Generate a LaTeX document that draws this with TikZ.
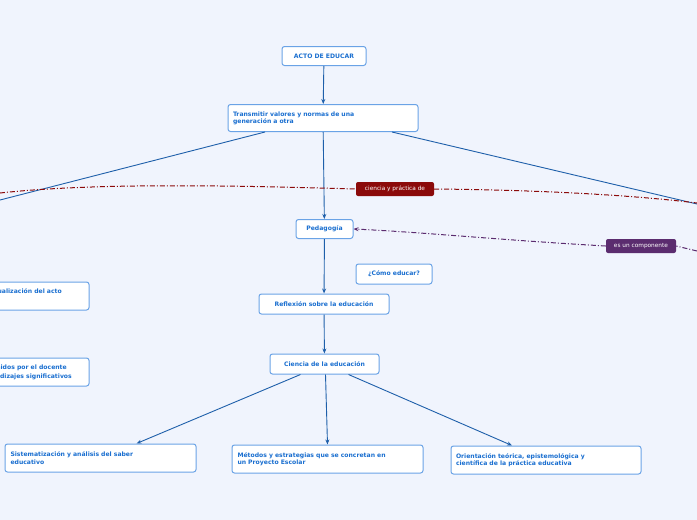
\documentclass[tikz,border=0pt]{standalone}
\usepackage{fontspec}
\setmainfont{DejaVu Sans}
\usetikzlibrary{arrows.meta,calc}
\definecolor{bg}{HTML}{F0F4FD}
\definecolor{tx}{HTML}{1A6FD0}
\definecolor{bd}{HTML}{6AA3E6}
\definecolor{ln}{HTML}{1E5FAA}
\definecolor{rd}{HTML}{8B0A0A}
\definecolor{pu}{HTML}{5B2C6F}
\tikzset{
 box/.style={draw=bd,line width=1pt,fill=white,rounded corners=2.5pt,text=tx,font=\bfseries\fontsize{6.1}{7.2}\selectfont,inner sep=0pt,align=left},
 txt/.style={text=tx,font=\bfseries\fontsize{6.1}{7.2}\selectfont,inner sep=0pt},
 con/.style={draw=ln,line width=0.9pt,-{Stealth[length=5pt,width=4pt]}},
 lbl/.style={rounded corners=2pt,text=white,font=\fontsize{5.8}{6.8}\selectfont,inner sep=0pt}
}
\begin{document}
\begin{tikzpicture}[x=1pt,y=-1pt]
\fill[bg] (0,0) rectangle (697,520);
\useasboundingbox (0,0) rectangle (697,520);
\clip (0,0) rectangle (697,520);
\node[box,minimum width=84pt,minimum height=19pt,align=center] (acto) at (324,56) {ACTO DE EDUCAR};
\node[box,minimum width=190pt,minimum height=27pt,text width=180pt] (trans) at (323,118) {Transmitir valores y normas de una\\generación a otra};
\node[box,minimum width=57pt,minimum height=19pt,align=center] (ped) at (324.5,229) {Pedagogía};
\node[box,minimum width=76pt,minimum height=20pt,align=center] (como) at (394,274) {¿Cómo educar?};
\node[box,minimum width=130pt,minimum height=20pt,align=center] (refl) at (324,304) {Reflexión sobre la educación};
\node[box,minimum width=109pt,minimum height=20pt,align=center] (cien) at (324.5,364) {Ciencia de la educación};
\node[box,minimum width=191pt,minimum height=28pt,text width=180pt] (sist) at (100.5,458) {Sistematización y análisis del saber\\educativo};
\node[box,minimum width=191pt,minimum height=28pt,text width=180pt] (met) at (327.5,459) {Métodos y estrategias que se concretan en\\un Proyecto Escolar};
\node[box,minimum width=190pt,minimum height=28pt,text width=180pt] (ori) at (546,460) {Orientación teórica, epistemológica y\\científica de la práctica educativa};
\node[box,minimum width=190pt,minimum height=28pt] (conc) at (-6,296) {};
\node[txt,anchor=east] (conct) at (62,292) {Conceptualización del acto};
\node[box,minimum width=190pt,minimum height=28pt] (logr) at (-6,372) {};
\node[txt,anchor=east] (logr1) at (67,368) {Logros obtenidos por el docente};
\node[txt,anchor=east] (logr2) at (72,377) {en los aprendizajes significativos};
% connectors
\draw[con] (acto) -- (trans);
\draw[con] (trans) -- (ped);
\draw[con] (ped) -- (refl);
\draw[con] (refl) -- (cien);
\draw[con] ($(cien.south)+(-24,0)$) -- ($(sist.north)+(36,0)$);
\draw[con] ($(cien.south)+(1,0)$) -- (met.north);
\draw[con] ($(cien.south)+(24,0)$) -- ($(ori.north)+(-34,0)$);
\coordinate (lo) at (0,200);
\coordinate (ro) at (697,204);
\draw[draw=ln,line width=0.9pt] ([xshift=-58pt]trans.south) -- (lo);
\draw[draw=ln,line width=0.9pt] ([xshift=69pt]trans.south) -- (ro);
% red relation
\node[lbl,fill=rd,minimum width=78pt,minimum height=14pt] (cp) at (395,189) {ciencia y práctica de};
\coordinate (rl) at (0,193);
\coordinate (rr) at (697,203);
\draw[rd,line width=1pt,dash pattern=on 5pt off 2pt on 1pt off 2pt] (rl) .. controls (100,182) and (250,186) .. (cp.west);
\draw[rd,line width=1pt,dash pattern=on 5pt off 2pt on 1pt off 2pt] (cp.east) .. controls (550,190) and (640,196) .. (rr);
% purple relation
\node[lbl,fill=pu,minimum width=70pt,minimum height=14pt] (comp) at (641,246) {es un componente};
\coordinate (pr) at (697,251);
\draw[pu,line width=1pt,dash pattern=on 5pt off 2pt on 1pt off 2pt] (pr) -- (comp.east);
\draw[pu,line width=1pt,dash pattern=on 5pt off 2pt on 1pt off 2pt,-{Stealth[length=5pt,width=4pt]}] (comp.west) .. controls (500,240) and (420,232) .. (ped.east);
\end{tikzpicture}
\end{document}
